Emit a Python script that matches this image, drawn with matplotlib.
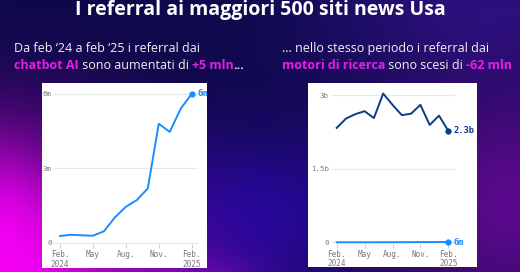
import numpy as np
import matplotlib
matplotlib.use("Agg")
import matplotlib.pyplot as plt
from matplotlib.patches import Rectangle

# ---------------- data ----------------
months = ["Feb 2024", "Mar", "Apr", "May", "Jun", "Jul", "Aug", "Sep", "Oct", "Nov", "Dec", "Jan", "Feb 2025"]
chatbot_m = [0.27, 0.32, 0.30, 0.28, 0.46, 1.02, 1.45, 1.72, 2.19, 4.80, 4.47, 5.41, 6.00]
search_b = [2.33, 2.52, 2.61, 2.67, 2.53, 3.03, 2.80, 2.59, 2.62, 2.80, 2.39, 2.58, 2.27]
tick_idx = [0, 3, 6, 9, 12]
tick_labels = ["Feb.\n2024", "May", "Aug.", "Nov.", "Feb.\n2025"]
left_yticks = [0, 3, 6]
left_ylabels = ["0", "3m", "6m"]
right_yticks = [0, 1.5, 3]
right_ylabels = ["0", "1.5b", "3b"]

W, H = 520, 272
DPI = 100
fig = plt.figure(figsize=(W / DPI, H / DPI), dpi=DPI)

# ---------------- background gradient ----------------
yy, xx = np.mgrid[0:H, 0:W]
u = xx / W
v = yy / H
img = np.zeros((H, W, 3))
img[:] = np.array([12, 9, 72]) / 255.0

def blob(img, cx, cy, sx, sy, color, strength=1.0):
    w = strength * np.exp(-(((u - cx) / sx) ** 2 + ((v - cy) / sy) ** 2))
    w = np.clip(w, 0, 1)[..., None]
    c = np.array(color) / 255.0
    return img * (1 - w) + c * w

img = blob(img, 0.95, 0.0, 0.35, 0.35, (44, 18, 130), 0.9)
img = blob(img, 0.5, 0.8, 0.2, 0.3, (28, 8, 160), 0.9)
img = blob(img, 1.0, 0.75, 0.3, 0.45, (90, 10, 140), 1.0)
img = blob(img, 0.35, 1.05, 0.15, 0.12, (110, 10, 190), 0.8)
img = blob(img, 0.0, 1.05, 0.3, 0.5, (240, 0, 240), 1.0)
img = blob(img, 0.0, 0.95, 0.1, 0.35, (245, 0, 245), 0.9)

bg = fig.add_axes([0, 0, 1, 1], zorder=-10)
bg.imshow(img, aspect="auto", extent=[0, W, H, 0], interpolation="bilinear")
bg.set_xlim(0, W)
bg.set_ylim(H, 0)
bg.axis("off")

def fx(px):
    return px / W

def fy(py):
    return 1 - py / H

# white panels
for (x0, y0, x1, y1) in [(42, 83, 207, 268), (308, 83, 477, 267)]:
    bg.add_patch(Rectangle((x0, y0), x1 - x0, y1 - y0, facecolor="white", edgecolor="none", zorder=1))

# ---------------- texts ----------------
WHITE = "#f2f2f2"
MAG = "#e61ee6"
TFONT = ["Open Sans", "DejaVu Sans"]

fig.text(0.5, fy(10.5), "I referral ai maggiori 500 siti news Usa", ha="center", va="center",
         color="white", fontsize=14, fontweight="bold", family=TFONT)

fig.canvas.draw()
renderer = fig.canvas.get_renderer()

def text_w(txt, size, wt):
    t = fig.text(0, 0, "|" + txt + "|", fontsize=size, fontweight=wt, family=TFONT)
    w1 = t.get_window_extent(renderer=renderer).width
    t.set_text("||")
    w0 = t.get_window_extent(renderer=renderer).width
    t.remove()
    return w1 - w0

def seg_line(x_px, y_px, segments, size=9):
    x = x_px
    for txt, col, wt in segments:
        fig.text(fx(x), fy(y_px), txt, ha="left", va="baseline", color=col,
                 fontsize=size, fontweight=wt, family=TFONT)
        x += text_w(txt, size, wt)

seg_line(14, 52, [("Da feb \u201824 a feb \u201825 i referral dai", WHITE, "normal")])
seg_line(14, 69, [("chatbot AI", MAG, "bold"), (" sono aumentati di ", WHITE, "normal"),
                  ("+5 mln", MAG, "bold"), ("...", WHITE, "bold")])
seg_line(282, 52, [("... nello stesso periodo i referral dai", WHITE, "normal")])
seg_line(282, 69, [("motori di ricerca", MAG, "bold"), (" sono scesi di ", WHITE, "normal"),
                   ("-62 mln", MAG, "bold")])

# ---------------- charts ----------------
LBLUE = "#1a8cff"
NAVY = "#0c3a8c"
MONO = ["DejaVu Sans Mono"]
GRID = "#e8e8e8"

def make_ax(px_left, px_right, xlim, py_bottom, py_top, ylim):
    ax = fig.add_axes([fx(px_left), fy(py_bottom), (px_right - px_left) / W, (py_bottom - py_top) / H])
    ax.set_xlim(*xlim)
    ax.set_ylim(*ylim)
    ax.patch.set_alpha(0)
    for s in ax.spines.values():
        s.set_visible(False)
    return ax

def style(ax, yt, yl, ypad):
    ax.set_yticks(yt)
    ax.set_yticklabels(yl)
    ax.set_xticks(tick_idx)
    ax.set_xticklabels(tick_labels)
    ax.tick_params(axis="y", length=0, pad=ypad, labelsize=5.3, labelcolor="#777777")
    ax.tick_params(axis="x", length=3, width=0.7, color="#cccccc", pad=1.5, labelsize=5.5, labelcolor="#777777")
    for lab in ax.get_xticklabels() + ax.get_yticklabels():
        lab.set_family(MONO)
        lab.set_linespacing(1.05)
    ax.grid(axis="y", color=GRID, linewidth=0.8)
    ax.set_axisbelow(True)

x = np.arange(len(months))

# left: chatbot referrals (millions)
sx = (191.7 - 60) / 12
sy = (242.7 - 94) / 6
xl = (-0.64, 12.58)
yl = (-0.06, 6.1)
axL = make_ax(60 + xl[0] * sx, 60 + xl[1] * sx, xl, 242.7 - yl[0] * sy, 242.7 - yl[1] * sy, yl)
style(axL, left_yticks, left_ylabels, 1.0)
axL.plot(x, chatbot_m, color=LBLUE, lw=1.4, clip_on=False)
axL.plot(x[-1], chatbot_m[-1], "o", color=LBLUE, ms=3.5, clip_on=False)
axL.annotate("6m", (x[-1], chatbot_m[-1]), xytext=(4, 0), textcoords="offset points",
             va="center", ha="left", color=LBLUE, fontsize=6.3, fontweight="bold", family=MONO)

# right: search engine referrals (billions)
sx2 = (448.3 - 336.7) / 12
sy2 = (242.3 - 95) / 3
xl2 = (-0.54, 12.72)
yl2 = (-0.03, 3.05)
axR = make_ax(336.7 + xl2[0] * sx2, 336.7 + xl2[1] * sx2, xl2, 242.3 - yl2[0] * sy2, 242.3 - yl2[1] * sy2, yl2)
style(axR, right_yticks, right_ylabels, 2.0)
chatbot_b = [val / 1000 for val in chatbot_m]
axR.plot(x, search_b, color=NAVY, lw=1.4, clip_on=False)
axR.plot(x[-1], search_b[-1], "o", color=NAVY, ms=3.5, clip_on=False)
axR.annotate("2.3b", (x[-1], search_b[-1]), xytext=(4, 0), textcoords="offset points",
             va="center", ha="left", color=NAVY, fontsize=6.3, fontweight="bold", family=MONO)
axR.plot(x, chatbot_b, color=LBLUE, lw=1.4, clip_on=False)
axR.plot(x[-1], chatbot_b[-1], "o", color=LBLUE, ms=3.5, clip_on=False)
axR.annotate("6m", (x[-1], chatbot_b[-1]), xytext=(4, 0), textcoords="offset points",
             va="center", ha="left", color=LBLUE, fontsize=6.3, fontweight="bold", family=MONO)

fig.savefig("out.png", dpi=DPI)
